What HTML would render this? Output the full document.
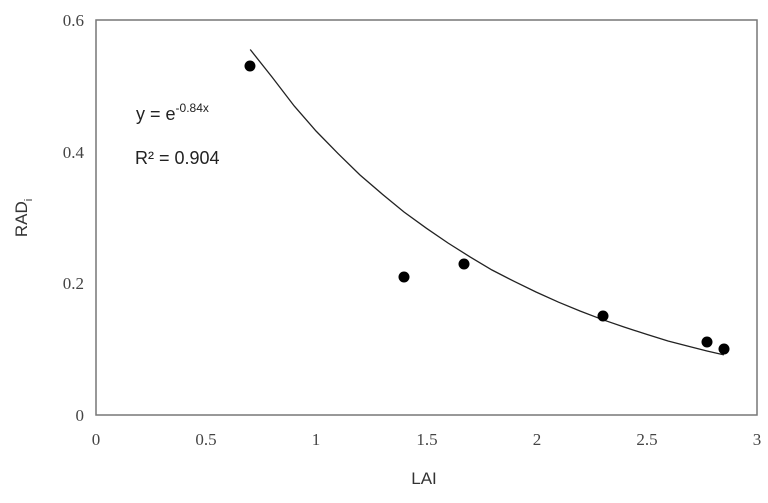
<!DOCTYPE html>
<html><head><style>body{margin:0;background:#fff}</style></head><body>
<svg width="768" height="498" xmlns="http://www.w3.org/2000/svg">
<rect width="768" height="498" fill="#fff"/>
<rect x="96" y="20" width="661" height="395" fill="none" stroke="#777" stroke-width="1.5"/>
<g font-family="Liberation Serif, serif" font-size="17" fill="#444" text-anchor="end">
<text x="84" y="26">0.6</text><text x="84" y="158">0.4</text><text x="84" y="289">0.2</text><text x="84" y="421">0</text>
</g>
<g font-family="Liberation Serif, serif" font-size="17" fill="#444" text-anchor="middle">
<text x="96" y="445">0</text><text x="206" y="445">0.5</text><text x="316" y="445">1</text><text x="427" y="445">1.5</text><text x="537" y="445">2</text><text x="647" y="445">2.5</text><text x="757" y="445">3</text>
</g>
<text x="424" y="484" font-family="Liberation Sans, sans-serif" font-size="17" fill="#333" text-anchor="middle">LAI</text>
<text transform="translate(27,218) rotate(-90)" font-family="Liberation Sans, sans-serif" font-size="17" fill="#333" text-anchor="middle">RAD<tspan font-size="11" dy="5">i</tspan></text>
<polyline fill="none" stroke="#222" stroke-width="1.3" points="250.2,49.5 272,77 294.3,106.1 316,131 338.3,153.8 360,175 382.4,194.2 404,212 426.5,228.3 448,243 470.5,257.2 492,270 514.6,281.6 536,292 558.6,302.2 580,311 602.7,319.7 624,327 646.8,334.4 668,341 690.8,346.9 707,351 723.9,354.9"/>
<g fill="#000">
<circle cx="250" cy="66" r="5.5"/><circle cx="404" cy="277" r="5.5"/><circle cx="464" cy="264" r="5.5"/><circle cx="603" cy="316" r="5.5"/><circle cx="707" cy="342" r="5.5"/><circle cx="724" cy="349" r="5.5"/>
</g>
<g font-family="Liberation Sans, sans-serif" fill="#222">
<text x="136" y="120" font-size="18">y = e<tspan font-size="12" dy="-8">-0.84x</tspan></text>
<text x="135" y="164" font-size="18">R² = 0.904</text>
</g>
</svg>
</body></html>
